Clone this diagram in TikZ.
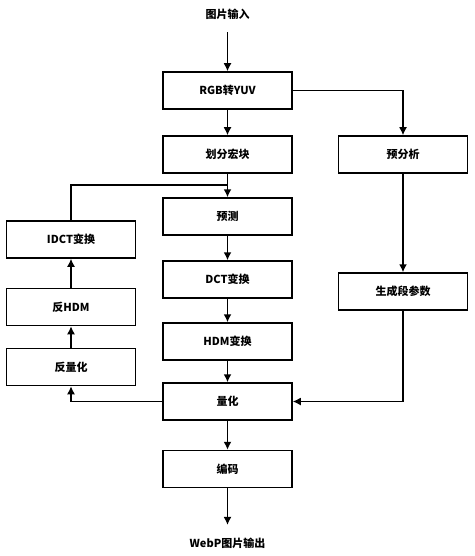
\documentclass[tikz,border=0pt]{standalone}
\usepackage{fontspec}
\setmainfont{Noto Sans CJK SC}
\usepackage{tikz}
\usetikzlibrary{positioning, arrows, arrows.meta}

\begin{document}
\begin{tikzpicture}
	[x=1pt, y=1pt, on grid, line width=1.5pt, >={Latex[length=8pt,width=8pt]},
	 box/.style={draw, minimum width=129pt, minimum height=37pt, font=\bfseries\fontsize{11}{13}\selectfont},
	 io/.style={inner xsep=2pt, inner ysep=12pt, font=\bfseries\fontsize{11}{13}\selectfont}]
   \useasboundingbox (0,0) rectangle (474,-556);
   \node[io] (in) at (227.5,-14) {图片输入};
   \node[box] (rgb) [below=76.5pt of in] {RGB转YUV};
   \node[box] (split) [below=64pt of rgb] {划分宏块};
   \node[box] (pred) [below=62pt of split] {预测};
   \node[box] (dct) [below=63pt of pred] {DCT变换};
   \node[box] (hdm) [below=62pt of dct] {HDM变换};
   \node[box] (quant) [below=60pt of hdm] {量化};
   \node[box] (code) [below=67.5pt of quant] {编码};
   \node[io] (out) [below=74pt of code] {WebP图片输出};
   \node[box] (pre) [right=175.5pt of split] {预分析};
   \node[box] (seg) [below=137pt of pre] {生成段参数};
   \node[box] (iquant) [above left=34.5pt and 156.5pt of quant] {反量化};
   \node[box] (ihdm) [above=60pt of iquant] {反HDM};
   \node[box] (idct) [above=67.5pt of ihdm] {IDCT变换};
   \coordinate[below=11pt of split.south] (merge);

    \path[->]
    (in) edge (rgb)
    (rgb) edge (split)
    (split) edge (pred)
    (pred) edge (dct)
    (dct) edge (hdm)
    (hdm) edge (quant)
    (quant) edge (code)
    (code) edge (out)
    (pre) edge (seg)
    (iquant) edge (ihdm)
    (ihdm) edge (idct);

   \draw[->] (rgb) -| (pre);
   \draw[->] (seg) |- (quant);
   \draw[->] (quant) -| (iquant);
   \draw (idct) |- (merge);

\end{tikzpicture}
\end{document}
